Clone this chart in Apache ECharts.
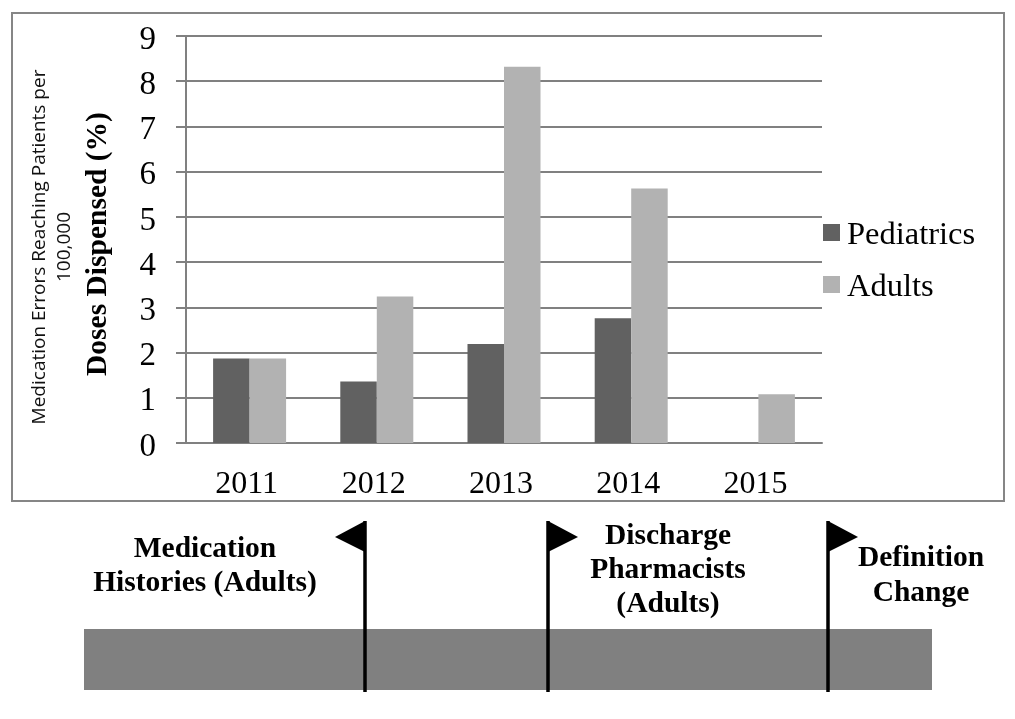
<!DOCTYPE html>
<html><head><meta charset="utf-8">
<style>html,body{margin:0;padding:0;background:#fff}#c{width:1015px;height:719px}</style>
<script src="https://cdn.jsdelivr.net/npm/echarts@6/dist/echarts.min.js"></script>
</head><body><div id="c"></div>
<script>
const categories = ['2011','2012','2013','2014','2015'];
const pediatrics = [1.87,1.36,2.19,2.76,null];
const adults = [1.87,3.24,8.32,5.63,1.08];
const yTicks = {min:0,max:9,interval:1};
const serif = '"Liberation Serif","Times New Roman",serif';
const chart = echarts.init(document.getElementById('c'),null,{renderer:'canvas'});
function flag(x,dir,top,bottom){
  return [
    {type:'line',shape:{x1:x,y1:top,x2:x,y2:bottom},style:{stroke:'#000',lineWidth:3.5},z:10},
    {type:'polygon',shape:{points:[[x,top],[x,top+31],[x+dir*30,top+16]]},style:{fill:'#000'},z:10}
  ];
}
function label(text,x,y,lh){
  return {type:'text',x:x,y:y,style:{text:text,fill:'#000',font:'bold 29.5px '+serif,align:'center',verticalAlign:'middle',lineHeight:lh},z:11};
}
chart.setOption({
  animation:false,
  backgroundColor:'#fff',
  grid:{left:186,right:193,top:36,bottom:276,containLabel:false},
  legend:{orient:'vertical',left:823,top:219,padding:0,itemWidth:17,itemHeight:23,itemGap:19,
    textStyle:{fontFamily:serif,fontSize:32.5,color:'#000',padding:[0,0,0,2]},
    data:['Pediatrics','Adults'],icon:'path://M0 0H17V17H0ZM0 23L0 23'},
  xAxis:{type:'category',data:categories,
    axisLine:{lineStyle:{color:'#808080',width:2}},axisTick:{show:false},
    axisLabel:{fontFamily:serif,fontSize:32,color:'#000',margin:26,padding:[0,6,0,0]}},
  yAxis:{type:'value',min:yTicks.min,max:yTicks.max,interval:yTicks.interval,
    axisLine:{show:true,lineStyle:{color:'#808080',width:2}},
    axisTick:{show:true,length:10,lineStyle:{color:'#808080',width:2}},
    axisLabel:{fontFamily:serif,fontSize:33,color:'#000',margin:30,verticalAlign:'top',lineHeight:8},
    splitLine:{lineStyle:{color:'#808080',width:2}}},
  series:[
    {name:'Pediatrics',type:'bar',data:pediatrics,barWidth:36.5,barGap:'0%',itemStyle:{color:'#616161'}},
    {name:'Adults',type:'bar',data:adults,barWidth:36.5,itemStyle:{color:'#b2b2b2'}}
  ],
  graphic:[
    {type:'rect',shape:{x:12,y:13,width:992,height:488},style:{fill:'none',stroke:'#868686',lineWidth:2},z:0},
    {type:'text',x:52,y:247,rotation:Math.PI/2,style:{text:'Medication Errors Reaching Patients per\n100,000',fill:'#111',font:'19px "Open Sans",sans-serif',align:'center',verticalAlign:'middle',lineHeight:25}},
    {type:'text',x:98,y:244,rotation:Math.PI/2,style:{text:'Doses Dispensed (%)',fill:'#000',font:'bold 29.5px '+serif,align:'center',verticalAlign:'middle'}},
    {type:'rect',shape:{x:84,y:629,width:848,height:61},style:{fill:'#808080'},z:1},
    ...flag(365,-1,521,692),
    ...flag(548,1,521,692),
    ...flag(828,1,521,692),
    label('Medication\nHistories (Adults)',205,566,34),
    label('Discharge\nPharmacists\n(Adults)',668,570.5,34),
    label('Definition\nChange',921,576,35)
  ]
});
</script></body></html>
